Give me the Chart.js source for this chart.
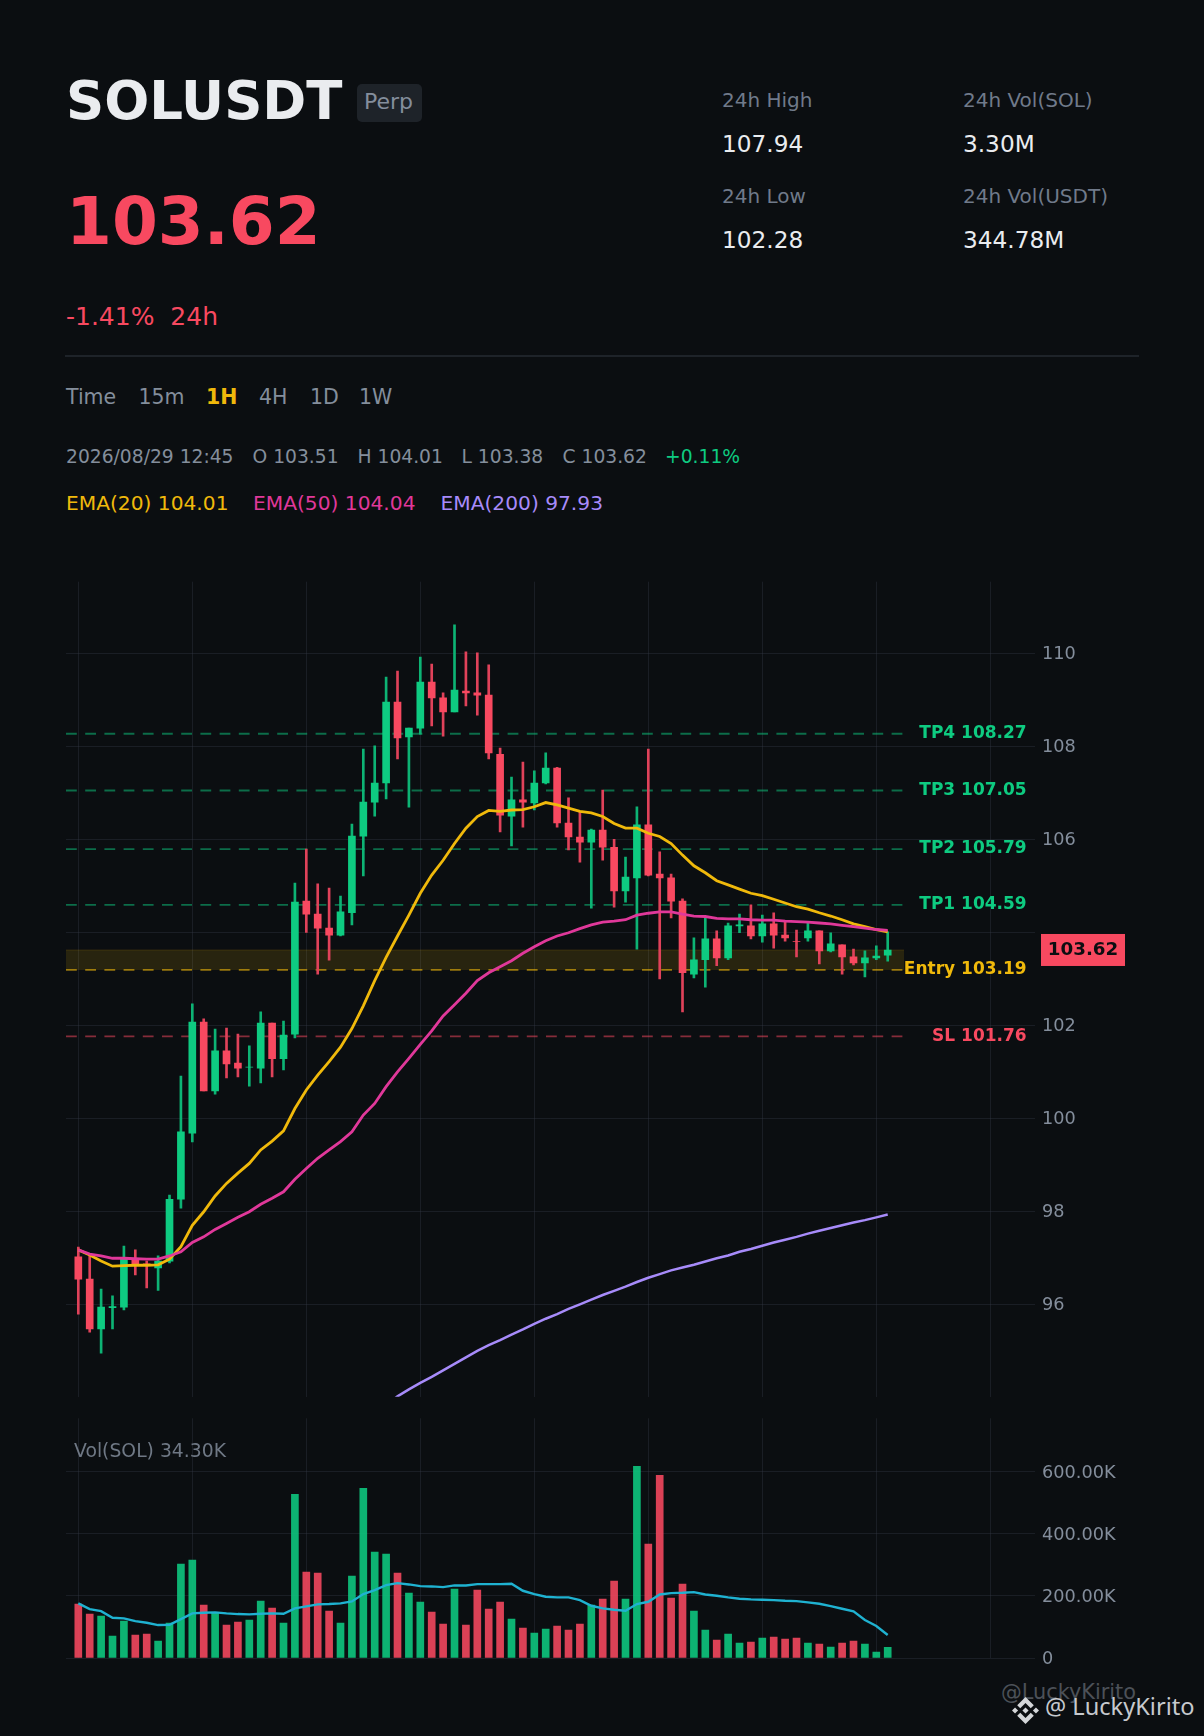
<!DOCTYPE html>
<html>
<head>
<meta charset="utf-8">
<title>SOLUSDT Perp</title>
<script src="https://cdn.jsdelivr.net/npm/chart.js@4"></script>
<style>
  html, body { margin: 0; padding: 0; background: #0b0e11; }
  body { position: relative; width: 1204px; height: 1736px; overflow: hidden; font-family: "DejaVu Sans", sans-serif; }
  .t { position: absolute; line-height: 1; white-space: pre; }
  canvas { position: absolute; left: 0; }
  .grey { color: #848e9c; }
  .val { color: #eaecef; font-size: 23.2px; }
  .lab { color: #707a8a; font-size: 20px; }
  .row { color: #848e9c; font-size: 18.7px; }
  .tf { color: #848e9c; font-size: 20.5px; }
</style>
</head>
<body>
<div class="t" style="left:66px;top:74px;font-size:53px;font-weight:700;color:#eaecef">SOLUSDT</div>
<div style="position:absolute;left:357px;top:84px;width:65px;height:38px;border-radius:5px;background:#1e2329"></div>
<div class="t grey" style="left:364px;top:91px;font-size:22px">Perp</div>
<div class="t" style="left:66px;top:189px;font-size:66px;font-weight:700;color:#f84960">103.62</div>
<div class="t" style="left:66px;top:304px;font-size:25px;color:#f84960">-1.41%  24h</div>

<div class="t lab" style="left:722px;top:90px">24h High</div>
<div class="t val" style="left:722px;top:132px">107.94</div>
<div class="t lab" style="left:722px;top:186px">24h Low</div>
<div class="t val" style="left:722px;top:228px">102.28</div>
<div class="t lab" style="left:963px;top:90px">24h Vol(SOL)</div>
<div class="t val" style="left:963px;top:132px">3.30M</div>
<div class="t lab" style="left:963px;top:186px">24h Vol(USDT)</div>
<div class="t val" style="left:963px;top:228px">344.78M</div>

<div style="position:absolute;left:65px;top:355px;width:1074px;height:2px;background:#1e2329"></div>

<div class="t tf" style="left:66px;top:387px">Time</div>
<div class="t tf" style="left:138.5px;top:387px">15m</div>
<div class="t tf" style="left:206px;top:387px;font-weight:700;color:#f0b90b">1H</div>
<div class="t tf" style="left:259px;top:387px">4H</div>
<div class="t tf" style="left:310px;top:387px">1D</div>
<div class="t tf" style="left:359px;top:387px">1W</div>

<div class="t row" style="left:66px;top:448px">2026/08/29 12:45</div>
<div class="t row" style="left:252.5px;top:448px">O 103.51</div>
<div class="t row" style="left:357.5px;top:448px">H 104.01</div>
<div class="t row" style="left:461.5px;top:448px">L 103.38</div>
<div class="t row" style="left:562.5px;top:448px">C 103.62</div>
<div class="t row" style="left:665px;top:448px;color:#0ecb81">+0.11%</div>

<div class="t" style="left:66px;top:493px;font-size:20.2px;color:#f0b90b">EMA(20) 104.01</div>
<div class="t" style="left:253px;top:493px;font-size:20.2px;color:#e0389a">EMA(50) 104.04</div>
<div class="t" style="left:440.5px;top:493px;font-size:20.2px;color:#a78bfa">EMA(200) 97.93</div>

<canvas id="price" width="1204" height="857" style="top:560px"></canvas>
<canvas id="volume" width="1204" height="285" style="top:1395px"></canvas>

<div class="t" style="left:74px;top:1442px;font-size:18.8px;color:#6f7885">Vol(SOL) 34.30K</div>

<div class="t" style="left:1001px;top:1682px;font-size:20.8px;color:#4c5158">@LuckyKirito</div>
<svg style="position:absolute;left:1012px;top:1697px" width="27" height="27" viewBox="0 0 126.61 126.61"><path fill="#d4d6d9" d="m38.73 53.2 24.59-24.58 24.6 24.6 14.3-14.31L63.32 0 24.43 38.9zM0 63.31l14.3-14.31 14.31 14.31-14.31 14.3zM38.73 73.41 63.32 98l24.6-24.6 14.31 14.29-38.9 38.91-38.91-38.88zM98 63.31 112.3 49l14.31 14.3-14.31 14.32zM77.83 63.3 63.32 48.78 52.59 59.51l-1.24 1.23-2.54 2.54 14.51 14.5 14.51-14.47z"/></svg>
<div class="t" style="left:1045px;top:1695px;font-family:'Noto Sans';font-size:23.6px;color:#c6c9ce">@ LuckyKirito</div>

<script>
// candles
const opens = [97.02,96.54,95.47,95.93,95.94,96.95,96.87,96.78,96.93,98.26,99.68,102.07,100.59,101.45,101.19,101.10,101.08,102.05,101.28,101.81,
  104.67,104.39,104.09,103.94,104.42,106.07,106.80,107.21,108.95,108.20,108.39,109.38,109.04,108.74,109.19,109.15,109.10,107.83,106.50,106.85,
  106.78,107.21,107.53,106.35,106.05,105.94,106.20,105.83,104.89,105.17,106.31,105.25,105.17,104.67,103.10,103.41,103.86,103.45,104.14,104.14,
  103.92,104.18,103.94,103.80,103.88,104.03,103.60,103.73,103.47,103.34,103.45,103.51];
const closes = [96.54,95.47,95.94,95.95,96.97,96.85,96.83,96.93,98.26,99.71,102.07,100.59,101.45,101.17,101.08,101.10,102.05,101.28,101.79,104.65,
  104.39,104.09,103.94,104.44,106.07,106.80,107.21,108.95,108.18,108.39,109.38,109.04,108.74,109.21,109.15,109.10,107.86,106.52,106.85,106.80,
  107.21,107.53,106.35,106.05,105.94,106.20,105.83,104.89,105.19,106.31,105.23,105.17,104.67,103.13,103.41,103.86,103.45,104.14,104.16,103.92,
  104.18,103.94,103.88,103.799,104.03,103.60,103.75,103.47,103.34,103.45,103.49,103.62];
const highs = [97.23,97.06,96.33,96.18,97.25,97.17,96.93,97.04,98.35,100.91,102.46,102.14,101.92,101.94,101.81,101.56,102.29,102.05,102.09,105.06,
  105.79,105.04,104.95,104.78,106.33,107.94,108.01,109.49,109.62,108.39,109.92,109.77,109.15,110.61,110.03,110.01,109.75,107.96,107.34,107.66,
  107.47,107.86,107.55,106.89,106.60,106.22,107.06,106.00,105.62,106.70,107.94,105.73,105.25,104.72,103.88,104.31,104.03,104.20,104.39,104.59,
  104.37,104.42,104.24,104.05,104.22,104.03,103.99,103.73,103.64,103.60,103.71,104.01];
const lows = [95.79,95.40,94.95,95.47,95.88,96.63,96.35,96.30,96.89,98.07,99.49,100.59,100.52,100.87,100.89,100.69,100.76,100.89,101.04,101.73,
  104.00,103.10,103.40,103.92,104.16,105.21,106.50,106.87,107.73,106.69,108.26,108.44,108.22,108.74,108.87,108.67,107.73,106.16,105.86,106.26,
  106.63,107.19,106.26,105.77,105.51,104.52,105.55,104.54,104.65,103.64,105.21,103.00,104.31,102.29,103.02,102.82,103.28,103.41,103.99,103.86,
  103.79,103.66,103.81,103.47,103.81,103.32,103.58,103.10,103.30,103.04,103.41,103.38];

const ema20 = [97.17,97.06,96.93,96.82,96.83,96.84,96.84,96.85,96.97,97.24,97.70,97.99,98.33,98.60,98.82,99.03,99.32,99.51,99.73,100.21,
  100.61,100.93,101.22,101.53,101.93,102.42,102.96,103.46,103.92,104.37,104.84,105.23,105.55,105.91,106.24,106.49,106.62,106.60,106.63,106.64,
  106.70,106.79,106.74,106.67,106.60,106.57,106.49,106.34,106.24,106.24,106.13,106.06,105.91,105.66,105.43,105.28,105.11,105.02,104.93,104.84,
  104.79,104.71,104.63,104.55,104.50,104.42,104.35,104.27,104.18,104.12,104.06,104.01];
const ema50 = [97.17,97.08,97.04,96.99,96.99,96.98,96.97,96.97,97.04,97.13,97.33,97.45,97.61,97.74,97.87,97.99,98.15,98.28,98.42,98.69,
  98.92,99.14,99.32,99.50,99.71,100.07,100.32,100.68,101.00,101.29,101.59,101.88,102.20,102.44,102.69,102.96,103.13,103.26,103.39,103.55,
  103.69,103.82,103.92,103.99,104.08,104.16,104.22,104.24,104.27,104.37,104.41,104.44,104.44,104.39,104.35,104.34,104.30,104.29,104.29,104.27,
  104.26,104.26,104.24,104.23,104.22,104.20,104.18,104.15,104.12,104.09,104.06,104.04];
const ema200 = [null,null,null,null,null,null,null,null,null,null,null,null,null,null,null,null,null,null,null,null,
  null,null,null,null,null,null,null,93.83,94.02,94.17,94.31,94.44,94.58,94.72,94.86,95.00,95.12,95.23,95.35,95.46,
  95.58,95.69,95.79,95.90,96.00,96.10,96.20,96.29,96.38,96.48,96.57,96.65,96.73,96.79,96.85,96.92,96.99,97.05,97.13,97.19,
  97.26,97.33,97.39,97.45,97.52,97.58,97.64,97.70,97.76,97.81,97.87,97.93];

// volume in thousands of SOL
const volumes = [173.6,141.4,135,70.7,118.9,73.9,77.1,54.6,112.5,302.1,315,170.4,144.6,106,115.7,122.1,183.2,160.7,112.5,527.1,
  276.4,273.2,151.1,112.5,263.6,546.4,340.7,334.3,273.2,208.9,180,147.9,109.3,221.8,106,218.6,157.5,180,125.4,96.4,
  80.4,93.2,102.9,90,109.3,170.4,189.6,247.5,189.6,617.1,366.4,588.2,192.9,237.9,151.1,90,57.9,77.1,48.2,51.4,
  64.3,67.5,61.1,64.3,48.2,45,35.4,48.2,54.6,45,19.3,34.3];
const volMa = [175.7,157.5,151,129.6,127.5,118.9,113.6,106,107,125,143.6,145.7,146.8,143.6,141.4,140.4,142.5,143.6,142.5,159.6,
  166,172.5,173.6,175.7,182.1,205.7,218.6,234.6,241,236.8,231.4,230.4,228.2,233.6,233.6,237.9,237.9,237.9,238.9,216.4,
  205.7,197.1,195,195,186.4,168.2,159.6,155.4,152.1,173.6,181,204.6,208.9,210,212.1,204.6,200.4,195,190.7,188.6,
  187.5,186.4,184.3,183.2,178.9,174.6,167.1,158.6,150,122.1,102.9,73.9];

const levelNames = ["TP4", "TP3", "TP2", "TP1", "Entry", "SL"];
const levelValues = [108.27, 107.05, 105.79, 104.59, 103.19, 101.76];
const priceTicks = [96, 98, 100, 102, 104, 106, 108, 110];
const volumeTicks = [0, 200, 400, 600];
const lastPrice = 103.62;

const GREEN = "#0ecb81";
const RED = "#f84960";
const GOLD = "#f0b90b";
const GRID = "rgba(52,58,70,0.38)";
const TICK = "#848e9c";
const FONT = '"DejaVu Sans", sans-serif';
const indexes = opens.map((_, i) => i);
const rising = indexes.map(i => closes[i] >= opens[i]);

// same x mapping on both panels: one candle every 11.4px
const xScale = {
  type: "linear", min: -1.08, max: 83.92, offset: false,
  border: { display: false },
  grid: { color: GRID, lineWidth: 1, drawTicks: false, offset: false },
  ticks: { display: false, stepSize: 10, includeBounds: false },
};

function yScale(min, max, list, fmt) {
  return {
    position: "right", min, max,
    border: { display: false },
    grid: { color: GRID, lineWidth: 1, drawTicks: false },
    ticks: { color: TICK, padding: 7, labelOffset: 1.5, font: { family: FONT, size: 17.7 }, callback: fmt },
    afterBuildTicks(axis) { axis.ticks = list.map(value => ({ value })); },
    afterFit(axis) { axis.width = 169; },
  };
}

function lineSet(values, color, width, order) {
  return {
    type: "line", order, data: indexes.map(i => ({ x: i, y: values[i] })),
    borderColor: color, borderWidth: width, pointRadius: 0, tension: 0, spanGaps: false,
  };
}

function levelSet(value, color, order) {
  return {
    type: "line", order, data: [{ x: -1.08, y: value }, { x: 72.43, y: value }],
    borderColor: color, borderWidth: 1.8, borderDash: [10.8, 8.4], pointRadius: 0,
  };
}

const levelColor = n => n === "Entry" ? GOLD : n === "SL" ? RED : GREEN;
const levelLine = n => n === "Entry" ? "rgba(240,185,11,0.6)" : n === "SL" ? "rgba(248,73,96,0.52)" : "rgba(14,203,129,0.5)";

const levelLabels = {
  id: "levelLabels",
  afterDraw(chart) {
    const { ctx, scales: { y } } = chart;
    ctx.save();
    ctx.font = "bold 17px " + FONT;
    ctx.textAlign = "right";
    ctx.textBaseline = "middle";
    levelNames.forEach((n, i) => {
      ctx.fillStyle = levelColor(n);
      ctx.fillText(n + " " + levelValues[i].toFixed(2), 1026.7, y.getPixelForValue(levelValues[i]));
    });
    // last price tag on the axis
    const py = y.getPixelForValue(lastPrice);
    ctx.fillStyle = RED;
    ctx.fillRect(1041, py - 16, 84, 32);
    ctx.fillStyle = "#0b0e11";
    ctx.font = "bold 18.3px " + FONT;
    ctx.textAlign = "center";
    ctx.fillText(lastPrice.toFixed(2), 1083, py);
    ctx.restore();
  },
};

new Chart(document.getElementById("price"), {
  type: "bar",
  data: {
    datasets: [
      lineSet(ema200, "#a78bfa", 2.5, 1),
      lineSet(ema20, GOLD, 2.8, 2),
      lineSet(ema50, "#e0389a", 2.8, 1.5),
      {
        type: "bar", order: 4, grouped: false, barThickness: 7,
        data: indexes.map(i => ({ x: i, y: [opens[i], closes[i]] })),
        backgroundColor: rising.map(r => r ? GREEN : RED),
      },
      {
        type: "bar", order: 5, grouped: false, barThickness: 2,
        data: indexes.map(i => ({ x: i, y: [lows[i], highs[i]] })),
        backgroundColor: rising.map(r => r ? "#0db374" : "#e0425a"),
      },
      ...levelNames.map((n, i) => levelSet(levelValues[i], levelLine(n), 6)),
      {
        type: "line", order: 7, data: [{ x: -1.08, y: lastPrice }, { x: 72.43, y: lastPrice }],
        borderColor: "rgba(240,185,11,0.14)", borderWidth: 1, pointRadius: 0,
        fill: { value: levelValues[4] }, backgroundColor: "rgba(240,185,11,0.13)",
      },
    ],
  },
  options: {
    responsive: false, animation: false,
    layout: { autoPadding: false, padding: { left: 66, top: 21.7, right: 0, bottom: 20.3 } },
    plugins: { legend: { display: false }, tooltip: { enabled: false } },
    scales: {
      x: xScale,
      // 104 sits under the price tag, so its label is left out
      y: yScale(94.013, 111.54, priceTicks, v => v === 104 ? "" : String(v)),
    },
  },
  plugins: [levelLabels],
});

new Chart(document.getElementById("volume"), {
  type: "bar",
  data: {
    datasets: [
      lineSet(volMa, "#1fb2d1", 2.4, 1),
      {
        type: "bar", order: 2, grouped: false, barThickness: 7,
        data: indexes.map(i => ({ x: i, y: [0, volumes[i]] })),
        backgroundColor: rising.map(r => r ? "rgba(14,203,129,0.88)" : "rgba(248,73,96,0.88)"),
      },
    ],
  },
  options: {
    responsive: false, animation: false,
    layout: { autoPadding: false, padding: { left: 66, top: 23.3, right: 0, bottom: 22 } },
    plugins: { legend: { display: false }, tooltip: { enabled: false } },
    scales: {
      x: xScale,
      y: yScale(0, 771.6, volumeTicks, v => v === 0 ? "0" : v.toFixed(2) + "K"),
    },
  },
});
</script>
</body>
</html>
